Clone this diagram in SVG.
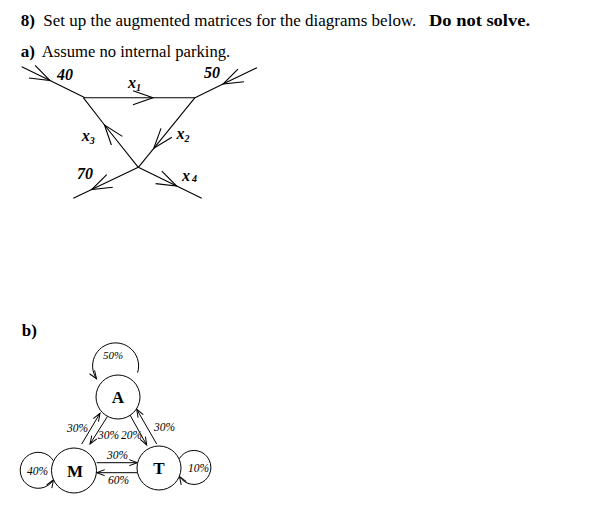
<svg xmlns="http://www.w3.org/2000/svg" width="614" height="528" viewBox="0 0 614 528">
<style>
.hd{font-family:"Liberation Serif","Times New Roman",serif;font-size:17px;fill:#000}
.b{font-weight:bold}
.lbl{font-family:"Liberation Serif","Times New Roman",serif;font-size:16px;font-weight:bold;font-style:italic;fill:#000}
.sub{font-size:10px}
.pct{font-family:"Liberation Serif","Times New Roman",serif;font-size:11.5px;font-style:italic;fill:#000}
.node{fill:#fff;stroke:#000;stroke-width:1}
.nl{font-family:"Liberation Serif","Times New Roman",serif;font-size:17px;font-weight:bold;text-anchor:middle;fill:#000}
.ln{fill:none;stroke:#000;stroke-width:1.1}
.ar{fill:none;stroke:#000;stroke-width:1}
</style>
<defs>
<marker id="big" markerUnits="userSpaceOnUse" viewBox="-22 -8 24 16" refX="0" refY="0" markerWidth="24" markerHeight="16" orient="auto">
<path d="M-20,-7 L0,0 L-20,7" fill="none" stroke="#000" stroke-width="1.1"/>
</marker>
<marker id="sm" markerUnits="userSpaceOnUse" viewBox="-9 -4 11 8" refX="0" refY="0" markerWidth="11" markerHeight="8" orient="auto">
<path d="M-8,-3 L0,0 L-8,3" fill="none" stroke="#000" stroke-width="1"/>
</marker>
</defs>

<text class="hd" x="20.7" y="26"><tspan class="b">8)</tspan></text>
<text class="hd" x="43.3" y="26" textLength="373" lengthAdjust="spacingAndGlyphs">Set up the augmented matrices for the diagrams below.</text>
<text class="hd b" x="429" y="26" textLength="101" lengthAdjust="spacingAndGlyphs">Do not solve.</text>
<text class="hd" x="20.7" y="57"><tspan class="b">a)</tspan></text>
<text class="hd" x="41.7" y="57" textLength="188.5" lengthAdjust="spacingAndGlyphs">Assume no internal parking.</text>
<text class="hd" x="21.7" y="336"><tspan class="b">b)</tspan></text>

<g id="connectors-a">
<path class="ln" d="M21.7,66.7 L50,80.5 L85,97.7" marker-mid="url(#big)"/>
<path class="ln" d="M85,97.7 L153,97.7 L195,97.7" marker-mid="url(#big)"/>
<path class="ln" d="M257,67.7 L223,84.1 L195,97.7" marker-mid="url(#big)"/>
<path class="ln" d="M195,97.7 L153.8,148.3 L138.3,167.3" marker-mid="url(#big)"/>
<path class="ln" d="M138.3,167.3 L104.5,125 L83.3,97.7" marker-mid="url(#big)"/>
<path class="ln" d="M138.3,167.3 L91.7,189.5 L73.3,198.3" marker-mid="url(#big)"/>
<path class="ln" d="M138.3,167.3 L176.7,186.1 L201.7,198.3" marker-mid="url(#big)"/>
</g>
<g id="labels-a">
<text class="lbl" x="57" y="80">40</text>
<text class="lbl" x="204" y="78">50</text>
<text class="lbl" x="128" y="88">x<tspan class="sub" dy="3">1</tspan></text>
<text class="lbl" x="81.7" y="141">x<tspan class="sub" dy="3">3</tspan></text>
<text class="lbl" x="176.5" y="139">x<tspan class="sub" dy="3">2</tspan></text>
<text class="lbl" x="77" y="179">70</text>
<text class="lbl" x="182" y="181">x<tspan class="sub" dx="2" dy="1">4</tspan></text>
</g>

<g id="connectors-b">
<path class="ar" d="M137.6,372.6 A23,23 0 1 0 96.5,378.7" marker-end="url(#sm)"/>
<path class="ar" d="M53.5,460.8 A18,18 0 1 0 53.5,479.8" marker-end="url(#sm)"/>
<path class="ar" d="M179.3,458.7 A17,17 0 1 1 179.5,476.5" marker-end="url(#sm)"/>
<path class="ar" d="M81.7,444 L100,413.3" marker-end="url(#sm)"/>
<path class="ar" d="M107.3,416.7 L90,444" marker-end="url(#sm)"/>
<path class="ar" d="M130,415 L146.7,445" marker-end="url(#sm)"/>
<path class="ar" d="M156.7,444 L136.7,409.3" marker-end="url(#sm)"/>
<path class="ar" d="M96.7,462.7 L137.3,462.7" marker-end="url(#sm)" stroke="#555" stroke-width="1.6"/>
<path class="ar" d="M137.3,472.7 L96.7,472.7" marker-end="url(#sm)"/>
</g>

<g id="node-A">
<circle class="node" cx="118" cy="397" r="22"/>
<text class="nl" x="118" y="402.5">A</text>
</g>
<g id="node-M">
<circle class="node" cx="74" cy="470.5" r="22.5"/>
<text class="nl" x="75" y="477">M</text>
</g>
<g id="node-T">
<circle class="node" cx="159" cy="468" r="22"/>
<text class="nl" x="159" y="473.5">T</text>
</g>

<g id="labels-b">
<text class="pct" x="103" y="359" style="font-size:11px">50%</text>
<text class="pct" x="27" y="475">40%</text>
<text class="pct" x="188" y="472">10%</text>
<text class="pct" x="67" y="432">30%</text>
<text class="pct" x="98" y="439">30%</text>
<text class="pct" x="121" y="439">20%</text>
<text class="pct" x="154" y="431">30%</text>
<text class="pct" x="107" y="459">30%</text>
<text class="pct" x="108" y="484">60%</text>
</g>
</svg>
